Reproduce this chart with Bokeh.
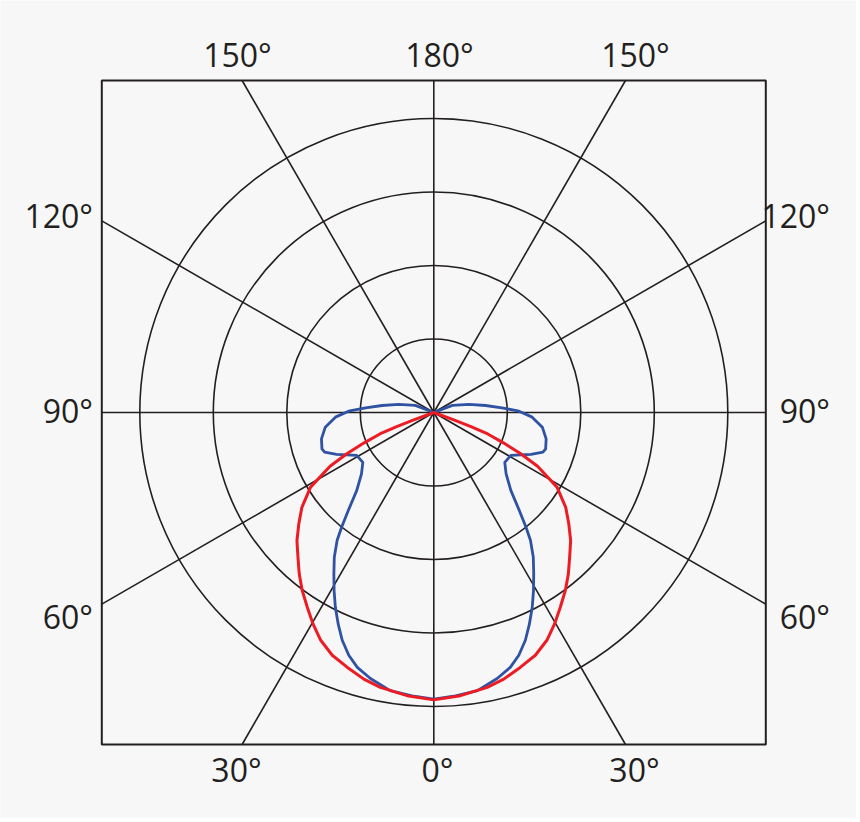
import numpy as np
from bokeh.plotting import figure
from bokeh.models import Range1d
from bokeh.core.properties import value
from bokeh.embed import file_html
from bokeh.resources import INLINE

# ---- data (angles from nadir in degrees, intensity in arbitrary units; ring = 100) ----
ring_values = [100, 200, 300, 400]
grid_angles = [0, 30, 60, 90, 120, 150, 180, 210, 240, 270, 300, 330]

red_theta = [0, 5.4, 11.0, 14.7, 18.8, 22.7, 26.4, 29.8, 33.0, 36.5, 39.8, 43.2, 46.9,
             50.5, 54.3, 58.8, 62.6, 64.6, 66.4, 68.3, 69.3, 69.8, 70.5]
red_cd = [391, 387, 381, 375, 366, 358, 346, 331, 316, 301, 286, 270, 255,
          238, 221, 196, 159, 131, 104, 79, 54, 30, 0]

blue_theta = [0, 4.0, 8.9, 13.4, 16.7, 19.3, 21.9, 24.3, 26.8, 29.2, 31.8, 34.5, 37.1,
              38.8, 41.1, 44.7, 49.7, 54.9, 60.9, 66.7, 70.0, 72.0, 76.8, 82.3, 87.3,
              90.9, 93.9, 97.7, 102.9, 110.9, 115]
blue_cd = [390, 387, 383, 372, 362, 350, 334, 316, 297, 278, 258, 239, 218,
           200, 177, 149, 129, 118, 120, 144, 158, 160, 157, 149, 134,
           116, 93, 71, 49, 27, 0]

top_labels = ["150°", "180°", "150°"]
bottom_labels = ["30°", "0°", "30°"]
side_labels = ["120°", "90°", "60°"]

# ---- styling / layout ----
BG = "#f7f7f7"
INK = "#231f20"
RED = "#ed1c24"
BLUE = "#2f52a2"
FONT = "Open Sans"
FS = "32px"

W, H = 856, 818          # canvas size (frame fills the canvas)
PX = 0.735               # pixels per data unit
CX, CY = 433.3, 412.0    # pixel position of the pole on the canvas
HALF = 332 / PX          # half size of the square box in data units
TXT_SHIFT = 11.5         # baseline correction for the text glyphs (px)


def px_x(sx):
    return (sx - CX) / PX


def px_y(sy):
    return (CY - sy) / PX


p = figure(frame_width=W, frame_height=H,
           x_range=Range1d(px_x(0), px_x(W)), y_range=Range1d(px_y(H), px_y(0)),
           output_backend="svg", toolbar_location=None,
           x_axis_location=None, y_axis_location=None,
           min_border=0, min_border_left=0, min_border_right=0,
           min_border_top=0, min_border_bottom=0)
p.background_fill_color = BG
p.border_fill_color = BG
p.outline_line_color = None
p.xgrid.visible = False
p.ygrid.visible = False

# polar grid: spokes clipped to the square box, and rings
ang = np.radians(np.asarray(grid_angles, dtype=float))
reach = HALF / np.maximum(np.abs(np.cos(ang)), np.abs(np.sin(ang)))
p.segment(x0=np.zeros_like(ang), y0=np.zeros_like(ang),
          x1=reach * np.cos(ang), y1=reach * np.sin(ang),
          line_color=INK, line_width=1.6)
p.circle(x=[0] * len(ring_values), y=[0] * len(ring_values), radius=ring_values,
         fill_color=None, line_color=INK, line_width=1.6)
p.rect(x=[0], y=[0], width=[2 * HALF], height=[2 * HALF],
       fill_color=None, line_color=INK, line_width=2)


def closed_curve(theta, cd):
    t = np.radians(np.asarray(theta, dtype=float))
    r = np.asarray(cd, dtype=float)
    xl = -r[::-1] * np.sin(t[::-1])
    yl = -r[::-1] * np.cos(t[::-1])
    xr = r[1:] * np.sin(t[1:])
    yr = -r[1:] * np.cos(t[1:])
    return np.concatenate([xl, xr]), np.concatenate([yl, yr])


bx, by = closed_curve(blue_theta, blue_cd)
rx, ry = closed_curve(red_theta, red_cd)
p.line(bx, by, line_color=BLUE, line_width=2.8, line_join="round")
p.line(rx, ry, line_color=RED, line_width=3, line_join="round")

# angle labels
top_px = [237, 439, 635]
bot_px = [236, 437, 634]
side_base_px = [226, 421.7, 627]
common = dict(text_font=value(FONT), text_font_size=FS, text_color=INK,
              text_baseline="alphabetic")
p.text(x=[px_x(s) for s in top_px], y=[px_y(65.5 - TXT_SHIFT)] * 3, text=top_labels,
       text_align="center", **common)
p.text(x=[px_x(s) for s in bot_px], y=[px_y(780.5 - TXT_SHIFT)] * 3, text=bottom_labels,
       text_align="center", **common)
p.text(x=[px_x(92.5)] * 3, y=[px_y(s - TXT_SHIFT) for s in side_base_px], text=side_labels,
       text_align="right", **common)
p.text(x=[px_x(829.5)] * 3, y=[px_y(s - TXT_SHIFT) for s in side_base_px], text=side_labels,
       text_align="right", **common)

open("out.html", "w").write(file_html(p, INLINE))
